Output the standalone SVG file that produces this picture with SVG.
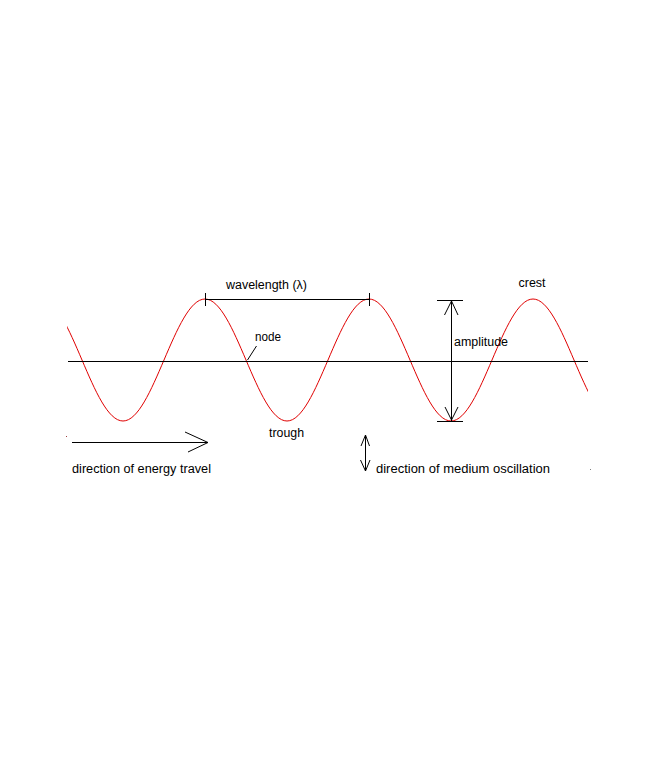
<svg xmlns="http://www.w3.org/2000/svg" width="657" height="758" viewBox="0 0 657 758">
<style>
.t{font-family:"Liberation Sans",Arial,sans-serif;font-size:12.5px;fill:#000}
.k{stroke:#000;stroke-width:1;fill:none}
.w{stroke:#e00000;stroke-width:1;fill:none}
</style>
<defs>
<clipPath id="clip"><rect x="67" y="280" width="521" height="160"/></clipPath>
</defs>
<rect width="657" height="758" fill="#fff"/>
<g id="wave" clip-path="url(#clip)">
<path class="w" d="M41,299 C70.8,299 93.2,421 123,421 S175.2,299 205,299 S257.2,421 287,421 S339.2,299 369,299 S421.2,421 451,421 S503.2,299 533,299 S585.2,421 615,421"/>
</g>
<g id="axis"><line class="k" x1="68" y1="361.5" x2="588" y2="361.5"/></g>
<g id="connectors">
<g id="wavelength-bar">
<line class="k" x1="205" y1="299.5" x2="369" y2="299.5"/>
<line class="k" x1="205.5" y1="293" x2="205.5" y2="306"/>
<line class="k" x1="369.5" y1="293" x2="369.5" y2="306"/>
</g>
<g id="node-leader"><line class="k" x1="256.5" y1="346" x2="247.5" y2="360"/></g>
<g id="amplitude-arrow">
<line class="k" x1="451.5" y1="300" x2="451.5" y2="421"/>
<line class="k" x1="437" y1="300.5" x2="463" y2="300.5"/>
<line class="k" x1="437" y1="421.5" x2="463" y2="421.5"/>
<polyline class="k" points="444.5,315 451.5,301 458,315"/>
<polyline class="k" points="445,407 451.5,420 458,407"/>
</g>
<g id="energy-arrow">
<line class="k" x1="72" y1="442.5" x2="208" y2="442.5"/>
<polyline class="k" points="185,432 208,442.5 188,452"/>
</g>
<g id="oscillation-arrow">
<line class="k" x1="365.5" y1="435" x2="365.5" y2="471"/>
<polyline class="k" points="361,446 365.5,435 369.5,446"/>
<polyline class="k" points="360.5,460 365.5,471 370,460"/>
</g>
</g>
<g id="labels">
<text id="wavelength-label" class="t" x="226" y="289" textLength="81" lengthAdjust="spacingAndGlyphs">wavelength (λ)</text>
<text id="node-label" class="t" x="255" y="341" textLength="26" lengthAdjust="spacingAndGlyphs">node</text>
<text id="crest-label" class="t" x="518.5" y="287" textLength="27" lengthAdjust="spacingAndGlyphs">crest</text>
<text id="amplitude-label" class="t" x="454" y="346" textLength="54" lengthAdjust="spacingAndGlyphs">amplitude</text>
<text id="trough-label" class="t" x="269" y="437" textLength="35" lengthAdjust="spacingAndGlyphs">trough</text>
<text id="energy-label" class="t" x="72" y="473" textLength="139" lengthAdjust="spacingAndGlyphs">direction of energy travel</text>
<text id="oscillation-label" class="t" x="376" y="473" textLength="174" lengthAdjust="spacingAndGlyphs">direction of medium oscillation</text>
</g>
<rect x="66" y="436" width="1" height="1" fill="#a04040"/>
<rect x="590" y="469" width="1" height="1" fill="#808080"/>
</svg>
